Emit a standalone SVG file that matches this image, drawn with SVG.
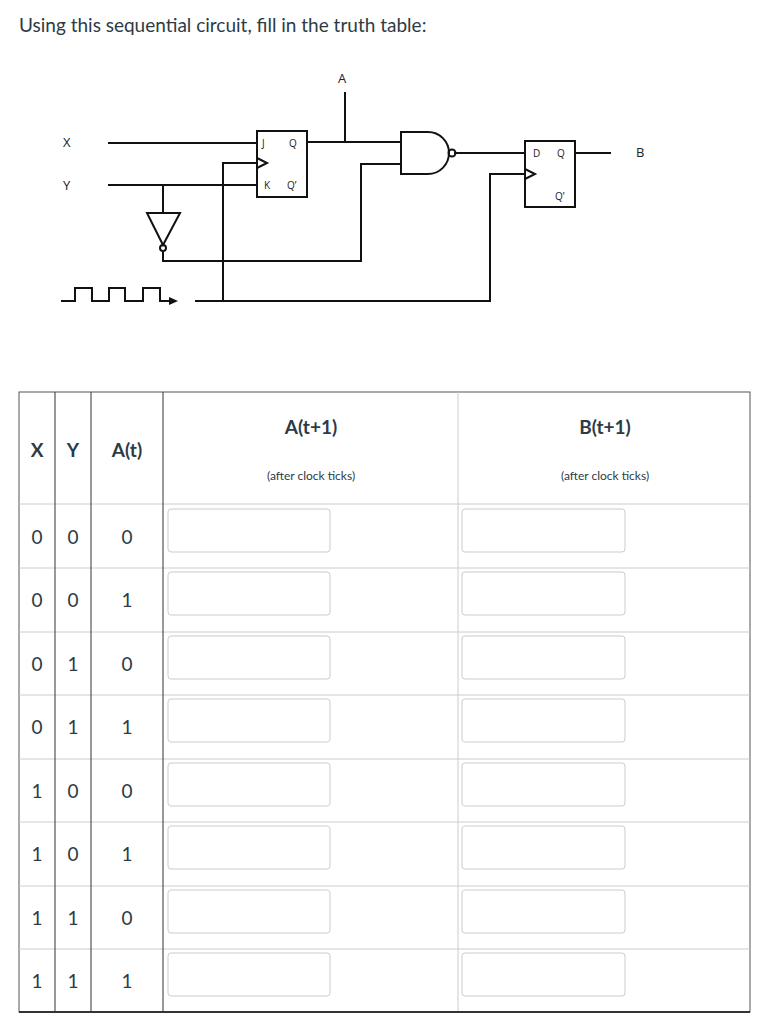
<svg xmlns="http://www.w3.org/2000/svg" width="767" height="1024" viewBox="0 0 767 1024">
<style>
.w{fill:none;stroke:#111;stroke-width:2}
.c{font-family:"Open Sans","Liberation Sans",sans-serif;font-size:10px;fill:#222}
.L{font-size:13px}
.t{font-family:Lato,"Liberation Sans",sans-serif;fill:#2d3b45}
.v{font-family:Lato,"Liberation Sans",sans-serif;font-size:19px;fill:#2d3b45;text-anchor:middle}
.h{font-family:Lato,"Liberation Sans",sans-serif;font-size:19px;font-weight:bold;fill:#2d3b45;text-anchor:middle}
.s{font-family:Lato,"Liberation Sans",sans-serif;font-size:12px;fill:#2d3b45;text-anchor:middle}
.box{fill:#fff;stroke:#c7cdd1;stroke-width:1}
.g{stroke:#ccc;stroke-width:1}
.d{stroke:#333;stroke-width:1}
</style>
<rect width="767" height="1024" fill="#fff"/>
<text class="t" x="19" y="32" font-size="19">Using this sequential circuit, fill in the truth table:</text>
<g id="connectors">
<path class="w" d="M108 143H257"/>
<path class="w" d="M108 185H257"/>
<path class="w" d="M163 185V213"/>
<path class="w" d="M163 252V261H361V164H400"/>
<path class="w" d="M223 301V163H257"/>
<path class="w" d="M195 301H490V174H525"/>
<path class="w" d="M307 142H400"/>
<path class="w" d="M345 142V92"/>
<path class="w" d="M454 153H525"/>
<path class="w" d="M575 153H611"/>
<path class="w" d="M61 301H75V288H92V301H109V288H125V301H143V288H160V301H170"/>
<path d="M169 297L178 301L169 305Z" fill="#111"/>
</g>
<g id="jkff">
<rect class="w" x="257" y="131" width="50" height="66"/>
<path class="w" stroke-width="1.5" d="M257 158L267 163L257 168"/>
<text class="c" x="262" y="147">J</text>
<text class="c" x="289" y="147">Q</text>
<text class="c" x="264" y="189">K</text>
<text class="c" x="287" y="189">Q’</text>
</g>
<g id="inverter">
<path class="w" d="M147 213H180L163 245Z"/>
<circle class="w" cx="163" cy="248" r="3" stroke-width="1.5"/>
</g>
<g id="nand">
<path class="w" stroke-width="2.5" d="M401 132H428A21 21 0 0 1 428 174H401Z"/>
<circle class="w" cx="452" cy="153" r="3.5"/>
</g>
<g id="dff">
<rect class="w" x="525" y="141" width="50" height="66"/>
<path class="w" stroke-width="1.5" d="M525 169L535 174L525 179"/>
<text class="c" x="533" y="157">D</text>
<text class="c" x="557" y="157">Q</text>
<text class="c" x="555" y="200">Q’</text>
</g>
<g id="labels">
<text class="c L" x="63" y="147">X</text>
<text class="c L" x="63" y="190">Y</text>
<text class="c L" x="338" y="83">A</text>
<text class="c L" x="636" y="157">B</text>
</g>
<g id="table">
<rect x="19" y="392" width="731" height="620" fill="none" stroke="#555"/>
<path class="g" d="M458 392V1012M19 504H750M19 568H750M19 632H750M19 695H750M19 759H750M19 822H750M19 886H750M19 949H750"/>
<path class="d" d="M55 392V1012M91 392V1012M163 392V1012"/>
<path stroke="#333" stroke-width="2" d="M19 1012H750"/>
<text class="h" x="37" y="457">X</text>
<text class="h" x="73" y="457">Y</text>
<text class="h" x="127" y="457">A(t)</text>
<text class="h" x="311" y="434">A(t+1)</text>
<text class="s" x="311" y="480">(after clock ticks)</text>
<text class="h" x="605" y="434">B(t+1)</text>
<text class="s" x="605" y="480">(after clock ticks)</text>
<g class="v">
<text x="37" y="544">0</text><text x="73" y="544">0</text><text x="127" y="544">0</text>
<text x="37" y="607">0</text><text x="73" y="607">0</text><text x="127" y="607">1</text>
<text x="37" y="671">0</text><text x="73" y="671">1</text><text x="127" y="671">0</text>
<text x="37" y="734">0</text><text x="73" y="734">1</text><text x="127" y="734">1</text>
<text x="37" y="798">1</text><text x="73" y="798">0</text><text x="127" y="798">0</text>
<text x="37" y="861">1</text><text x="73" y="861">0</text><text x="127" y="861">1</text>
<text x="37" y="925">1</text><text x="73" y="925">1</text><text x="127" y="925">0</text>
<text x="37" y="988">1</text><text x="73" y="988">1</text><text x="127" y="988">1</text>
</g>
<g>
<rect class="box" x="168" y="509" width="162" height="43" rx="3"/><rect class="box" x="462" y="509" width="163" height="43" rx="3"/>
<rect class="box" x="168" y="572" width="162" height="43" rx="3"/><rect class="box" x="462" y="572" width="163" height="43" rx="3"/>
<rect class="box" x="168" y="636" width="162" height="43" rx="3"/><rect class="box" x="462" y="636" width="163" height="43" rx="3"/>
<rect class="box" x="168" y="699" width="162" height="43" rx="3"/><rect class="box" x="462" y="699" width="163" height="43" rx="3"/>
<rect class="box" x="168" y="763" width="162" height="43" rx="3"/><rect class="box" x="462" y="763" width="163" height="43" rx="3"/>
<rect class="box" x="168" y="826" width="162" height="43" rx="3"/><rect class="box" x="462" y="826" width="163" height="43" rx="3"/>
<rect class="box" x="168" y="890" width="162" height="43" rx="3"/><rect class="box" x="462" y="890" width="163" height="43" rx="3"/>
<rect class="box" x="168" y="953" width="162" height="43" rx="3"/><rect class="box" x="462" y="953" width="163" height="43" rx="3"/>
</g>
</g>
</svg>
